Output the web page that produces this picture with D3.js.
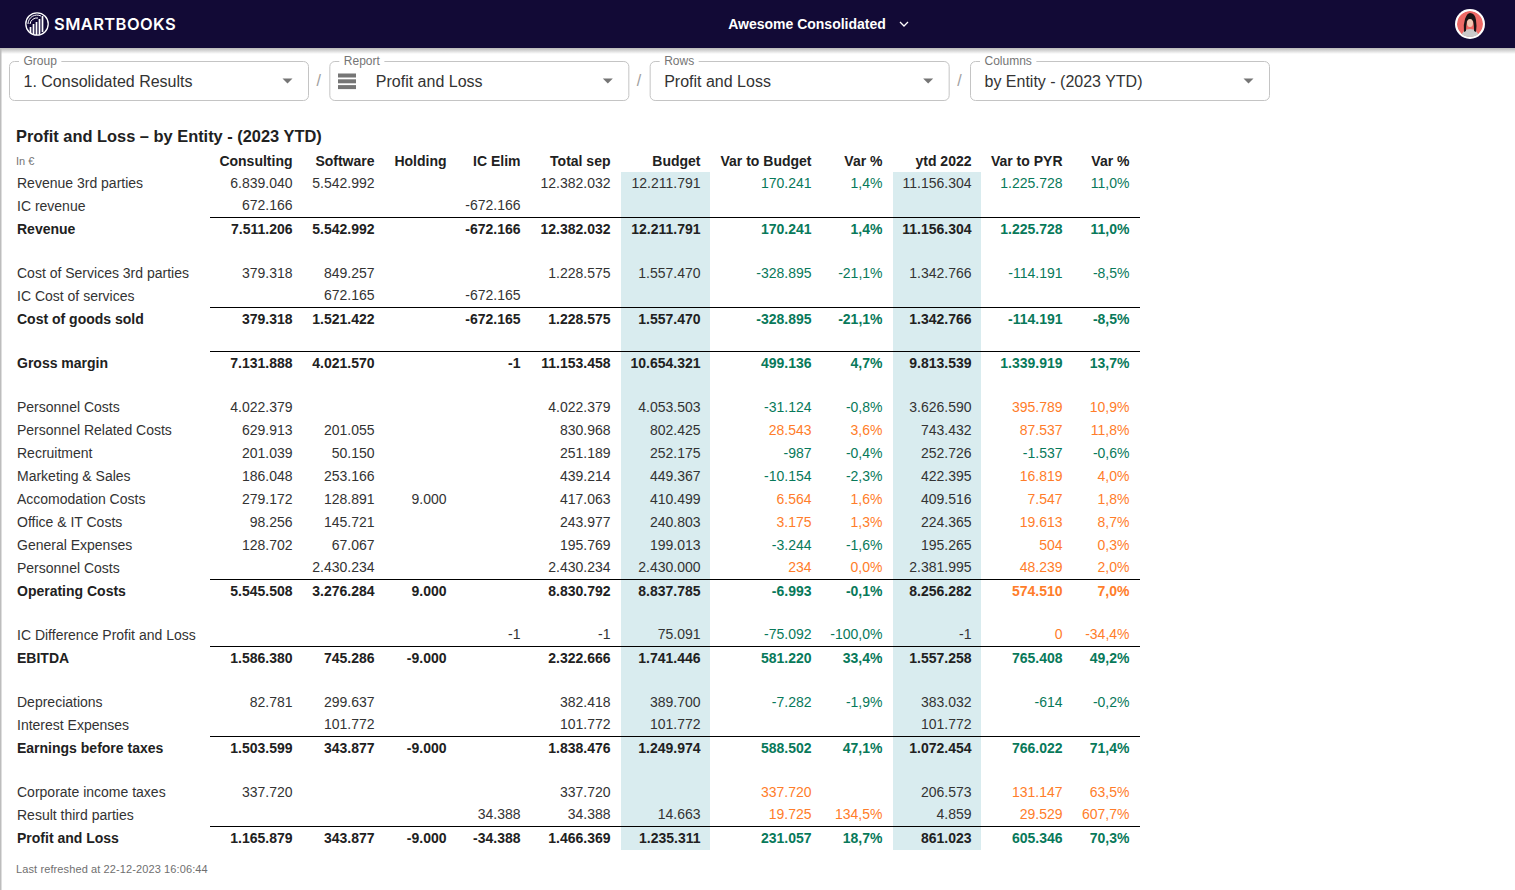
<!DOCTYPE html>
<html>
<head>
<meta charset="utf-8">
<title>Profit and Loss</title>
<script src="https://cdnjs.cloudflare.com/ajax/libs/d3/7.8.5/d3.min.js"></script>
<style>
  html, body { margin: 0; padding: 0; background: #fff; overflow: hidden; }
  svg { display: block; font-family: "Liberation Sans", Arial, sans-serif; }
</style>
</head>
<body>
<script>
const _ = null;

const rowLabels = [
  "Revenue 3rd parties", "IC revenue", "Revenue", "",
  "Cost of Services 3rd parties", "IC Cost of services", "Cost of goods sold", "",
  "Gross margin", "",
  "Personnel Costs", "Personnel Related Costs", "Recruitment", "Marketing & Sales",
  "Accomodation Costs", "Office & IT Costs", "General Expenses", "Personnel Costs",
  "Operating Costs", "",
  "IC Difference Profit and Loss", "EBITDA", "",
  "Depreciations", "Interest Expenses", "Earnings before taxes", "",
  "Corporate income taxes", "Result third parties", "Profit and Loss"
];
const boldRows = ["Revenue", "Cost of goods sold", "Gross margin", "Operating Costs", "EBITDA", "Earnings before taxes", "Profit and Loss"];
// a higher number is good on these rows, on all others a lower one is
const profitRows = ["Revenue 3rd parties", "Revenue", "Gross margin", "EBITDA", "Earnings before taxes", "Profit and Loss"];

const consulting = [6839040, 672166, 7511206, _, 379318, _, 379318, _, 7131888, _, 4022379, 629913, 201039, 186048, 279172, 98256, 128702, _, 5545508, _, _, 1586380, _, 82781, _, 1503599, _, 337720, _, 1165879];
const software = [5542992, _, 5542992, _, 849257, 672165, 1521422, _, 4021570, _, _, 201055, 50150, 253166, 128891, 145721, 67067, 2430234, 3276284, _, _, 745286, _, 299637, 101772, 343877, _, _, _, 343877];
const holding = [_, _, _, _, _, _, _, _, _, _, _, _, _, _, 9000, _, _, _, 9000, _, _, -9000, _, _, _, -9000, _, _, _, -9000];
const icElim = [_, -672166, -672166, _, _, -672165, -672165, _, -1, _, _, _, _, _, _, _, _, _, _, _, -1, _, _, _, _, _, _, _, 34388, -34388];
const totalSep = [12382032, _, 12382032, _, 1228575, _, 1228575, _, 11153458, _, 4022379, 830968, 251189, 439214, 417063, 243977, 195769, 2430234, 8830792, _, -1, 2322666, _, 382418, 101772, 1838476, _, 337720, 34388, 1466369];
const budget = [12211791, _, 12211791, _, 1557470, _, 1557470, _, 10654321, _, 4053503, 802425, 252175, 449367, 410499, 240803, 199013, 2430000, 8837785, _, 75091, 1741446, _, 389700, 101772, 1249974, _, _, 14663, 1235311];
const varBudget = [170241, _, 170241, _, -328895, _, -328895, _, 499136, _, -31124, 28543, -987, -10154, 6564, 3175, -3244, 234, -6993, _, -75092, 581220, _, -7282, _, 588502, _, 337720, 19725, 231057];
const varBudgetPct = [1.4, _, 1.4, _, -21.1, _, -21.1, _, 4.7, _, -0.8, 3.6, -0.4, -2.3, 1.6, 1.3, -1.6, 0.0, -0.1, _, -100.0, 33.4, _, -1.9, _, 47.1, _, _, 134.5, 18.7];
const ytd2022 = [11156304, _, 11156304, _, 1342766, _, 1342766, _, 9813539, _, 3626590, 743432, 252726, 422395, 409516, 224365, 195265, 2381995, 8256282, _, -1, 1557258, _, 383032, 101772, 1072454, _, 206573, 4859, 861023];
const varPyr = [1225728, _, 1225728, _, -114191, _, -114191, _, 1339919, _, 395789, 87537, -1537, 16819, 7547, 19613, 504, 48239, 574510, _, 0, 765408, _, -614, _, 766022, _, 131147, 29529, 605346];
const varPyrPct = [11.0, _, 11.0, _, -8.5, _, -8.5, _, 13.7, _, 10.9, 11.8, -0.6, 4.0, 1.8, 8.7, 0.3, 2.0, 7.0, _, -34.4, 49.2, _, -0.2, _, 71.4, _, 63.5, 607.7, 70.3];

const columnNames = ["Consulting", "Software", "Holding", "IC Elim", "Total sep", "Budget", "Var to Budget", "Var %", "ytd 2022", "Var to PYR", "Var % "];
const columnValues = [consulting, software, holding, icElim, totalSep, budget, varBudget, varBudgetPct, ytd2022, varPyr, varPyrPct];
// percent columns take their colour from the amount next to them
const toneSource = { "Var to Budget": varBudget, "Var %": varBudget, "Var to PYR": varPyr, "Var % ": varPyr };
const percentColumns = ["Var %", "Var % "];
const shadedColumns = ["Budget", "ytd 2022"];

const selectLabels = ["Group", "Report", "Rows", "Columns"];
const selectValues = ["1. Consolidated Results", "Profit and Loss", "Profit and Loss", "by Entity - (2023 YTD)"];

const width = 1515;
const height = 890;
const rowHeight = 23;
const spacerHeight = 21;

const locale = d3.formatLocale({ decimal: ",", thousands: ".", grouping: [3], currency: ["€", ""], minus: "-" });
const formatAmount = locale.format(",d");
const formatPercent = v => locale.format(".1f")(v) + "%";

const xRight = d3.scaleOrdinal(columnNames, [292.5, 374.5, 446.5, 520.5, 610.5, 700.5, 811.5, 882.5, 971.5, 1062.5, 1129.5]);
const shadeLeft = d3.scaleOrdinal(shadedColumns, [621, 893]);
const shadeRight = d3.scaleOrdinal(shadedColumns, [710, 981]);
const tone = d3.scaleOrdinal(["good", "bad"], ["#08795a", "#ff7d2a"]);

// spacer rows are a little lower than the normal ones
let rowY = [];
rowLabels.reduce((y, label, i) => {
  const next = y + (label === "" ? spacerHeight : rowHeight);
  rowY.push(y);
  return next;
}, 183);

const svg = d3.select("body").append("svg").attr("width", width).attr("height", height);

const defs = svg.append("defs");
const shadow = defs.append("linearGradient").attr("id", "barShadow").attr("x1", 0).attr("x2", 0).attr("y1", 0).attr("y2", 1);
shadow.append("stop").attr("offset", 0).attr("stop-color", "#000").attr("stop-opacity", 0.28);
shadow.append("stop").attr("offset", 1).attr("stop-color", "#000").attr("stop-opacity", 0);
defs.append("clipPath").attr("id", "avatarClip").append("circle").attr("cx", 1470).attr("cy", 24).attr("r", 13);

drawTable();
drawHeader();
drawSelects();

function drawHeader() {
  svg.append("rect").attr("y", 48).attr("width", width).attr("height", 6).attr("fill", "url(#barShadow)");
  svg.append("rect").attr("y", 48).attr("width", 1.5).attr("height", height - 48).attr("fill", "#bdbdbd");
  svg.append("rect").attr("width", width).attr("height", 48).attr("fill", "#120a36");

  const logo = svg.append("g").attr("fill", "none").attr("stroke", "#fff");
  logo.append("circle").attr("cx", 37).attr("cy", 24).attr("r", 11.2).attr("stroke-width", 1.3);
  logo.append("path").attr("stroke-width", 1).attr("d", "M28 24a9 9 0 0 1 13-8M30 24a7 7 0 0 1 8-6");
  logo.selectAll("line")
    .data([[30.5, 27, 33], [33.5, 24, 34.5], [36.5, 22, 35], [39.5, 19, 34.5], [42.5, 16, 32]])
    .join("line")
    .attr("x1", d => d[0]).attr("x2", d => d[0])
    .attr("y1", d => d[1]).attr("y2", d => d[2])
    .attr("stroke-width", 1.7);

  svg.append("text").attr("x", 54).attr("y", 30)
    .attr("fill", "#fff").attr("font-family", "Inter, sans-serif").attr("font-weight", 600)
    .attr("font-size", 16.5).attr("letter-spacing", 0.4).text("SMARTBOOKS");

  svg.append("text").attr("x", 807).attr("y", 29)
    .attr("text-anchor", "middle").attr("fill", "#fff").attr("font-weight", 700).attr("font-size", 14)
    .text("Awesome Consolidated");
  svg.append("path").attr("d", "M900 22l4 4 4-4").attr("fill", "none").attr("stroke", "#fff").attr("stroke-width", 1.3);

  svg.append("circle").attr("cx", 1470).attr("cy", 24).attr("r", 15).attr("fill", "#fff");
  const face = svg.append("g").attr("clip-path", "url(#avatarClip)");
  face.append("circle").attr("cx", 1470).attr("cy", 24).attr("r", 13).attr("fill", "#ee6a66");
  face.append("path").attr("d", "M1461 38q1-9 9-9t9 9z").attr("fill", "#c9c9c9");
  face.append("path").attr("d", "M1464 32q-1-7 1-13q2-6 5-6q5 0 6 7q1 6 0 12l-2-1q0-7-1-10h-6q-1 5-1 10z").attr("fill", "#1b1416");
  face.append("ellipse").attr("cx", 1470).attr("cy", 23).attr("rx", 3).attr("ry", 4).attr("fill", "#f3c9b4");
}

function drawSelects() {
  const boxWidth = 299;
  const boxes = svg.selectAll(".select").data(selectLabels).join("g")
    .attr("class", "select")
    .attr("transform", (d, i) => `translate(${9.5 + i * 320.33},61.5)`);

  boxes.append("rect").attr("width", boxWidth).attr("height", 39).attr("rx", 5)
    .attr("fill", "#fff").attr("stroke", "#c4c4c4");
  boxes.each(function (d) {
    const g = d3.select(this);
    const label = g.append("text").attr("x", 14).attr("y", 3).attr("font-size", 12).attr("fill", "#757575").text(d);
    const w = label.node().getComputedTextLength();
    g.insert("rect", "text").attr("x", 9.5).attr("y", -2).attr("width", w + 9).attr("height", 4).attr("fill", "#fff");
  });
  boxes.append("text")
    .attr("x", (d, i) => (i === 1 ? 46 : 14)).attr("y", 25.5)
    .attr("font-size", 16).attr("fill", "#333")
    .text((d, i) => selectValues[i]);
  boxes.append("path").attr("d", "M273 17h10l-5 5z").attr("fill", "#757575");
  boxes.filter((d, i) => i < 3).append("text")
    .attr("x", 307).attr("y", 24).attr("font-size", 16).attr("fill", "#9e9e9e").text("/");

  const bars = svg.append("g").attr("fill", "#757575");
  bars.selectAll("rect").data(selectLabels.slice(0, 3)).join("rect")
    .attr("x", 338).attr("y", (d, i) => 73.5 + i * 5.8).attr("width", 18).attr("height", 4);
}

function drawTable() {
  svg.append("text").attr("x", 16).attr("y", 142)
    .attr("font-size", 16.4).attr("font-weight", 700).attr("fill", "#212121")
    .text("Profit and Loss – by Entity - (2023 YTD)");
  svg.append("text").attr("x", 16).attr("y", 165)
    .attr("font-size", 11).attr("fill", "#757575").text("In €");

  svg.selectAll(".shade").data(shadedColumns).join("rect")
    .attr("class", "shade")
    .attr("x", d => shadeLeft(d)).attr("width", d => shadeRight(d) - shadeLeft(d))
    .attr("y", 172).attr("height", 678)
    .attr("fill", "#d9ecef");

  svg.selectAll(".colhead").data(columnNames).join("text")
    .attr("class", "colhead")
    .attr("x", d => xRight(d)).attr("y", 166)
    .attr("text-anchor", "end").attr("font-size", 14).attr("font-weight", 700).attr("fill", "#212121")
    .text(d => d.trim());

  const isBold = d => boldRows.includes(d);

  // sum rows have a rule above them
  svg.selectAll(".rule").data(rowLabels.map((d, i) => ({ d, i })).filter(r => isBold(r.d))).join("line")
    .attr("class", "rule")
    .attr("x1", 210).attr("x2", 1140)
    .attr("y1", r => rowY[r.i] - 11.5).attr("y2", r => rowY[r.i] - 11.5)
    .attr("stroke", "#000").attr("stroke-width", 1);

  svg.selectAll(".rowlabel").data(rowLabels).join("text")
    .attr("class", "rowlabel")
    .attr("x", 17).attr("y", (d, i) => rowY[i] + 5)
    .attr("font-size", 14).attr("font-weight", d => (isBold(d) ? 700 : 400))
    .attr("fill", d => (isBold(d) ? "#212121" : "#333"))
    .text(d => d);

  const cells = columnNames.flatMap((name, c) =>
    columnValues[c].map((value, row) => ({ name, value, row })).filter(d => d.value !== null));

  // numbers right above a rule sit one pixel higher
  svg.selectAll(".cell").data(cells).join("text")
    .attr("class", "cell")
    .attr("x", d => xRight(d.name))
    .attr("y", d => rowY[d.row] + (isBoldRow(d.row + 1) && d.row !== 7 ? 4 : 5))
    .attr("text-anchor", "end").attr("font-size", 14)
    .attr("font-weight", d => (isBoldRow(d.row) ? 700 : 400))
    .attr("fill", cellColor)
    .text(d => (percentColumns.includes(d.name) ? formatPercent(d.value) : formatAmount(d.value)));

  svg.append("text").attr("x", 16).attr("y", 873)
    .attr("font-size", 11).attr("letter-spacing", 0.11).attr("fill", "#6f6f6f")
    .text("Last refreshed at 22-12-2023 16:06:44");
}

function cellColor(d) {
  const source = toneSource[d.name];
  if (!source) return isBoldRow(d.row) ? "#212121" : "#333";
  const good = profitRows.includes(rowLabels[d.row]) || source[d.row] < 0;
  return tone(good ? "good" : "bad");
}

function isBoldRow(row) {
  return boldRows.includes(rowLabels[row]);
}
</script>
</body>
</html>
